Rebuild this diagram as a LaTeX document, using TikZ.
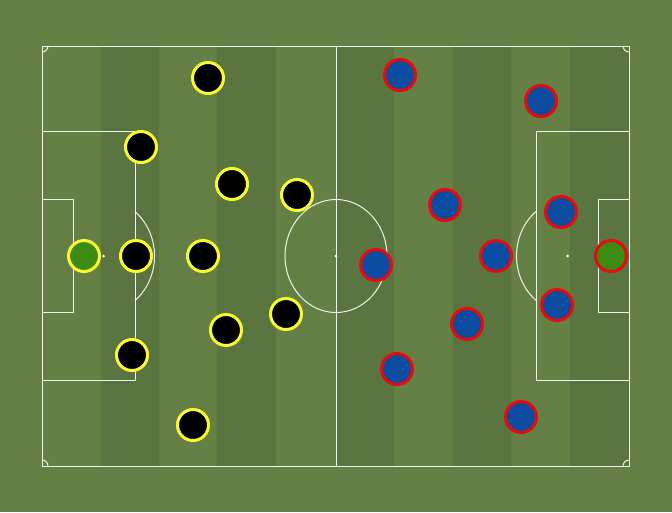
\documentclass[tikz,border=0pt]{standalone}
\usetikzlibrary{positioning}

\definecolor{grass}{RGB}{100,128,69}
\definecolor{grassdark}{RGB}{91,117,64}
\definecolor{shirtyellow}{RGB}{250,250,50}
\definecolor{shirtred}{RGB}{235,10,10}
\definecolor{shirtblue}{RGB}{12,76,160}
\definecolor{keeper}{RGB}{61,139,20}

\tikzset{
	line/.style={draw=white, line width=1pt, opacity=0.9},
	home/.style={circle, draw=shirtyellow, fill=black, line width=3pt, minimum size=31pt, inner sep=0pt},
	away/.style={circle, draw=shirtred, fill=shirtblue, line width=3pt, minimum size=31pt, inner sep=0pt},
	spot/.style={circle, fill=white, minimum size=3pt, inner sep=0pt},
}

\begin{document}
\begin{tikzpicture}[x=1pt, y=-1pt]
			% grass and stripes
			\fill[grass] (0, 0) rectangle (672, 512);
			\useasboundingbox (0, 0) rectangle (672, 512);
			\fill[grassdark] (100.7, 46) rectangle (159.4, 466);
			\fill[grassdark] (217.4, 46) rectangle (276.1, 466);
			\fill[grassdark] (335.5, 46) rectangle (394.2, 466);
			\fill[grassdark] (452.6, 46) rectangle (511.3, 466);
			\fill[grassdark] (570.3, 46) rectangle (629, 466);

			% markings
			\draw[line] (42, 46) rectangle (629, 466);
			\draw[line] (336, 46) -- (336, 466);
			\draw[line] (42, 131) rectangle (135, 380);
			\draw[line] (42, 199) rectangle (73, 312);
			\draw[line] (629, 131) rectangle (536, 380);
			\draw[line] (629, 199) rectangle (598, 312);
			\node (centre)[spot] at (336, 256) {};
			\node (spotL)[spot] at (103.5, 256) {};
			\node (spotR)[spot] at (567.5, 256) {};
			\draw[line] (centre) ellipse [x radius=51pt, y radius=56.5pt];
			\draw[line] (135, 300.5) arc [start angle=-51.9, end angle=51.9, x radius=51pt, y radius=56.5pt];
			\draw[line] (536, 211.5) arc [start angle=128.1, end angle=231.9, x radius=51pt, y radius=56.5pt];
			\draw[line] (48, 46) arc [start angle=0, end angle=-90, radius=6pt];
			\draw[line] (623, 46) arc [start angle=180, end angle=270, radius=6pt];
			\draw[line] (48, 466) arc [start angle=0, end angle=90, radius=6pt];
			\draw[line] (623, 466) arc [start angle=180, end angle=90, radius=6pt];

			% home side
			\node (hGK)[home, fill=keeper] at (84, 256) {};
			\node (h2)[home] at (208, 78) {};
			\node (h3)[home] at (141, 147) {};
			\node (h4)[home] at (232, 184) {};
			\node (h5)[home] at (297, 195) {};
			\node (h6)[home] at (136, 256) {};
			\node (h7)[home] at (203, 256) {};
			\node (h8)[home] at (286, 314) {};
			\node (h9)[home] at (226, 330) {};
			\node (h10)[home] at (132, 355) {};
			\node (h11)[home] at (193, 425) {};

			% away side
			\node (aGK)[away, fill=keeper] at (611, 256) {};
			\node (a2)[away] at (400, 75) {};
			\node (a3)[away] at (541, 101) {};
			\node (a4)[away] at (445, 205) {};
			\node (a5)[away] at (561, 212) {};
			\node (a6)[away] at (376, 265) {};
			\node (a7)[away] at (496, 256) {};
			\node (a8)[away] at (557, 305) {};
			\node (a9)[away] at (467, 324) {};
			\node (a10)[away] at (397, 369) {};
			\node (a11)[away] at (521, 417) {};
		\end{tikzpicture}
\end{document}
